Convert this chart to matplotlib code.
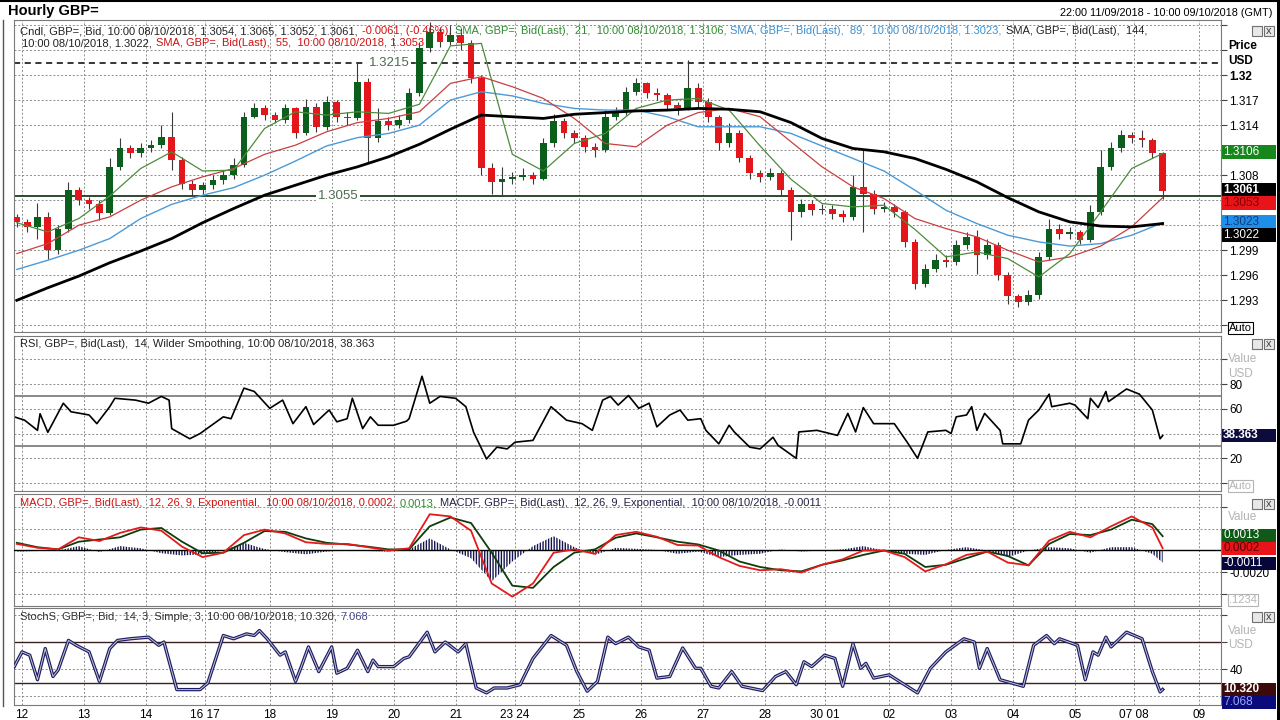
import matplotlib
matplotlib.use("Agg")
import matplotlib.pyplot as plt
from matplotlib.patches import Rectangle
import numpy as np

plt.rcParams["font.family"] = ["Liberation Sans", "DejaVu Sans"]
plt.rcParams["hatch.linewidth"] = 1.0

W, H = 1280, 720

# ---------------- data (x = trading hours since 22:00 11/09/2018) ----------------
bar_hour = list(range(0, 445, 4))
open_ = [1.3030, 1.3024, 1.3018, 1.3030, 1.2990, 1.3015, 1.3062, 1.3050, 1.3046, 1.3035,
         1.3090, 1.3112, 1.3106, 1.3112, 1.3116, 1.3126, 1.3098, 1.3070, 1.3062, 1.3068,
         1.3074, 1.3080, 1.3092, 1.3150, 1.3160, 1.3152, 1.3146, 1.3160, 1.3130, 1.3162,
         1.3138, 1.3168, 1.3150, 1.3148, 1.3192, 1.3125, 1.3145, 1.3140, 1.3146, 1.3178,
         1.3232, 1.3252, 1.3240, 1.3248, 1.3238, 1.3196, 1.3088, 1.3072, 1.3076, 1.3078,
         1.3080, 1.3076, 1.3118, 1.3145, 1.3130, 1.3124, 1.3114, 1.3110, 1.3150, 1.3156,
         1.3180, 1.3190, 1.3178, 1.3176, 1.3164, 1.3160, 1.3184, 1.3168, 1.3150, 1.3118,
         1.3130, 1.3100, 1.3082, 1.3078, 1.3082, 1.3062, 1.3036, 1.3046, 1.3038, 1.3040,
         1.3034, 1.3030, 1.3066, 1.3058, 1.3040, 1.3042, 1.3036, 1.3000, 1.2950, 1.2968,
         1.2978, 1.2976, 1.2996, 1.3006, 1.2984, 1.2996, 1.2960, 1.2935, 1.2928, 1.2936,
         1.2982, 1.3016, 1.3010, 1.3012, 1.3002, 1.3036, 1.3090, 1.3112, 1.3128, 1.3124,
         1.3122, 1.3106]
close = [1.3024, 1.3018, 1.3030, 1.2990, 1.3015, 1.3062, 1.3050, 1.3046, 1.3035, 1.3090,
         1.3112, 1.3106, 1.3112, 1.3116, 1.3126, 1.3098, 1.3070, 1.3062, 1.3068, 1.3074,
         1.3080, 1.3092, 1.3150, 1.3160, 1.3152, 1.3146, 1.3160, 1.3130, 1.3162, 1.3138,
         1.3168, 1.3150, 1.3148, 1.3192, 1.3125, 1.3145, 1.3140, 1.3146, 1.3178, 1.3232,
         1.3252, 1.3240, 1.3248, 1.3238, 1.3196, 1.3088, 1.3072, 1.3076, 1.3078, 1.3080,
         1.3076, 1.3118, 1.3145, 1.3130, 1.3124, 1.3114, 1.3110, 1.3150, 1.3156, 1.3180,
         1.3190, 1.3178, 1.3176, 1.3164, 1.3160, 1.3184, 1.3168, 1.3150, 1.3118, 1.3130,
         1.3100, 1.3082, 1.3078, 1.3082, 1.3062, 1.3036, 1.3046, 1.3038, 1.3040, 1.3034,
         1.3030, 1.3066, 1.3058, 1.3040, 1.3042, 1.3036, 1.3000, 1.2950, 1.2968, 1.2978,
         1.2976, 1.2996, 1.3006, 1.2984, 1.2996, 1.2960, 1.2935, 1.2928, 1.2936, 1.2982,
         1.3016, 1.3010, 1.3012, 1.3002, 1.3036, 1.3090, 1.3112, 1.3128, 1.3124, 1.3122,
         1.3106, 1.3061]
high = [1.3034, 1.3028, 1.3047, 1.3036, 1.3020, 1.3072, 1.3066, 1.3054, 1.3050, 1.3100,
        1.3124, 1.3116, 1.3118, 1.3122, 1.3140, 1.3156, 1.3102, 1.3074, 1.3072, 1.3080,
        1.3086, 1.3100, 1.3156, 1.3167, 1.3164, 1.3156, 1.3165, 1.3162, 1.3171, 1.3166,
        1.3175, 1.3170, 1.3156, 1.3216, 1.3196, 1.3160, 1.3150, 1.3152, 1.3184, 1.3240,
        1.3264, 1.3258, 1.3260, 1.3256, 1.3242, 1.3200, 1.3094, 1.3090, 1.3084, 1.3088,
        1.3084, 1.3124, 1.3153, 1.3148, 1.3134, 1.3128, 1.3118, 1.3158, 1.3162, 1.3186,
        1.3197, 1.3192, 1.3184, 1.3178, 1.3168, 1.3218, 1.3190, 1.3172, 1.3152, 1.3142,
        1.3134, 1.3104, 1.3086, 1.3088, 1.3086, 1.3066, 1.3052, 1.3050, 1.3046, 1.3044,
        1.3038, 1.3080, 1.3110, 1.3062, 1.3048, 1.3046, 1.3038, 1.3004, 1.2974, 1.2986,
        1.2984, 1.3002, 1.3012, 1.3014, 1.3004, 1.3000, 1.2964, 1.2938, 1.2942, 1.2988,
        1.3028, 1.3022, 1.3018, 1.3014, 1.3044, 1.3110, 1.3120, 1.3134, 1.3132, 1.3134,
        1.3124, 1.3108]
low = [1.3018, 1.3012, 1.3004, 1.2980, 1.2986, 1.3012, 1.3044, 1.3040, 1.3026, 1.3032,
       1.3086, 1.3100, 1.3102, 1.3108, 1.3112, 1.3086, 1.3064, 1.3055, 1.3058, 1.3064,
       1.3070, 1.3076, 1.3090, 1.3148, 1.3146, 1.3142, 1.3142, 1.3124, 1.3128, 1.3132,
       1.3134, 1.3144, 1.3140, 1.3146, 1.3094, 1.3120, 1.3134, 1.3136, 1.3142, 1.3175,
       1.3228, 1.3234, 1.3236, 1.3230, 1.3190, 1.3080, 1.3058, 1.3055, 1.3070, 1.3074,
       1.3070, 1.3074, 1.3114, 1.3124, 1.3118, 1.3108, 1.3102, 1.3108, 1.3146, 1.3152,
       1.3176, 1.3172, 1.3170, 1.3158, 1.3152, 1.3158, 1.3160, 1.3144, 1.3110, 1.3114,
       1.3096, 1.3076, 1.3072, 1.3074, 1.3056, 1.3002, 1.3030, 1.3032, 1.3034, 1.3028,
       1.3024, 1.3026, 1.3012, 1.3034, 1.3036, 1.3030, 1.2994, 1.2944, 1.2946, 1.2964,
       1.2970, 1.2972, 1.2992, 1.2962, 1.2980, 1.2954, 1.2926, 1.2922, 1.2924, 1.2932,
       1.2978, 1.3004, 1.3004, 1.2998, 1.3000, 1.3032, 1.3086, 1.3108, 1.3118, 1.3114,
       1.3100, 1.3052]

sma_hour = list(range(0, 445, 12))
sma21 = [1.3023, 1.3012, 1.3028, 1.3055, 1.3088, 1.3108, 1.3085, 1.3086, 1.3136, 1.3156,
         1.3152, 1.3156, 1.3154, 1.3165, 1.3235, 1.3238, 1.3105, 1.3085, 1.3118, 1.3130,
         1.3160, 1.3170, 1.3172, 1.3158, 1.3115, 1.3075, 1.3046, 1.3042, 1.3044, 1.3015,
         1.2982, 1.2988, 1.2980, 1.2958, 1.2986, 1.3036, 1.3088, 1.3106]
sma55 = [1.2986, 1.2998, 1.3020, 1.3030, 1.3050, 1.3066, 1.3078, 1.3088, 1.3105, 1.3116,
         1.3132, 1.3143, 1.3148, 1.3156, 1.3190, 1.3198, 1.3186, 1.3172, 1.3148, 1.3118,
         1.3114, 1.3140, 1.3155, 1.3160, 1.3150, 1.3120, 1.3090, 1.3066, 1.3052, 1.3028,
         1.3016, 1.3006, 1.2990, 1.2976, 1.2982, 1.2995, 1.3018, 1.3053]
sma89 = [1.2967, 1.2978, 1.2990, 1.3004, 1.3028, 1.3045, 1.3056, 1.3065, 1.3080, 1.3097,
         1.3115, 1.3125, 1.3130, 1.3140, 1.3170, 1.3180, 1.3175, 1.3166, 1.3160, 1.3158,
         1.3158, 1.3150, 1.3138, 1.3138, 1.3138, 1.3130, 1.3115, 1.3100, 1.3085, 1.3062,
         1.3038, 1.3022, 1.3008, 1.3000, 1.2995, 1.2998, 1.3008, 1.3023]
sma144 = [1.2930, 1.2945, 1.2959, 1.2975, 1.2989, 1.3004, 1.3023, 1.3040, 1.3056, 1.3068,
          1.3080, 1.3090, 1.3102, 1.3117, 1.3135, 1.3152, 1.3150, 1.3148, 1.3153, 1.3155,
          1.3157, 1.3158, 1.3160, 1.3159, 1.3156, 1.3143, 1.3124, 1.3112, 1.3108, 1.3100,
          1.3087, 1.3072, 1.3053, 1.3036, 1.3024, 1.3019, 1.3018, 1.3022]

rsi_hour = [-1, 3, 8, 9, 12, 18, 21, 28, 31, 36, 38, 46, 51, 56, 59, 60, 67, 71, 80, 83,
            88, 92, 98, 103, 107, 112, 115, 121, 124, 128, 130, 134, 137, 140, 146, 151, 152, 157, 160, 164,
            170, 174, 177, 182, 186, 190, 193, 200, 207, 213, 219, 223, 227, 230, 233, 237, 241, 245, 248, 253,
            257, 260, 265, 267, 272, 276, 278, 284, 288, 293, 295, 302, 303, 310, 318, 322, 325, 328, 332, 340,
            345, 349, 353, 360, 362, 364, 368, 370, 372, 375, 381, 382, 389, 392, 396, 400, 401, 408, 410, 415,
            416, 419, 422, 423, 430, 435, 440, 443, 444]
rsi = [53.5, 50.8, 42.6, 56, 41, 64.5, 57.6, 55, 48, 61.7, 68.5, 67, 64.5, 70, 67, 44, 35.8, 40, 53.5, 52,
       76.7, 74, 60.4, 67, 48, 61.7, 47.3, 59, 49.5, 52, 68.5, 44, 53.5, 46.7, 46.7, 50, 52, 86.3, 64.5, 70,
       68.5, 61.7, 41, 19.5, 29, 27.6, 33, 34.5, 61.7, 50.8, 48, 42.6, 67, 70, 63, 70.7, 60.4, 64.5, 45.4, 55,
       59, 50.8, 52, 42.6, 31.7, 46.7, 41.3, 29, 27.6, 37, 30.4, 20, 41.3, 42.6, 38.5, 56.3, 41.3, 61, 48, 48,
       33, 20, 41.3, 42.6, 40, 53.5, 55, 61.7, 42.6, 56.3, 42.6, 31.7, 31.7, 50.8, 59, 71.8, 61.7, 64.5, 63, 52,
       68.5, 61, 74, 65.8, 76, 71.8, 59, 35.8, 38.363]

macd_hour = list(range(0, 441, 8)) + [444]
macd_e4 = [6, 2.5, 1, 12, 8.6, 16, 21, 18, 3.5, -6, -2, 14, 19, 15.5, 7.5, 6, 6, 3, 0, 2,
           33, 31, 18, -30, -42, -30, -2, 1, -3, 14, 17, 12.5, 5, 4.5, -6, -14, -18, -17, -20, -13,
           -8, 0, 0, -6, -19, -12.5, -4, -1, -11, -13.5, 9, 17, 12, 22, 31, 21, 2]
signal_e4 = [7, 3, 1, 8, 10, 12, 19, 20.5, 8, -2.5, -2, 7, 17.7, 17, 11, 7, 5.5, 3.5, 1, 1,
             22, 30, 25, -2, -32, -34, -15, -2, 1, 11.6, 15.5, 12, 8, 5.5, 0, -10, -15, -18, -19, -13,
             -9, -4, 0, -3, -15, -13, -7, -1, -5, -13.5, 6, 15, 14, 19, 28, 24, 13]

stoch_hour = [-1, 2, 5, 8, 11, 14, 16, 20, 23, 28, 32, 36, 39, 44, 51, 55, 57, 62, 71, 74,
              80, 84, 89, 92, 94, 97, 102, 104, 108, 110, 113, 117, 122, 124, 128, 132, 136, 138, 140, 146,
              150, 152, 159, 162, 166, 171, 174, 178, 182, 185, 190, 195, 200, 207, 213, 217, 221, 225, 229, 232,
              237, 241, 245, 248, 253, 258, 263, 265, 269, 272, 277, 281, 289, 294, 298, 302, 305, 308, 313, 317,
              320, 324, 327, 329, 332, 338, 349, 354, 360, 367, 371, 373, 376, 381, 390, 394, 399, 402, 404, 411,
              414, 417, 419, 422, 424, 430, 436, 440, 443, 444]
stoch = [43.9, 65.5, 60.7, 24.6, 70.4, 29.4, 39, 82.4, 75.2, 65.5, 22.2, 70.4, 82.4, 84.8, 87.2, 75.2, 80, 10.1, 10.1, 19.8,
         89.6, 84.8, 92, 89.6, 96.9, 84.8, 60.7, 65.5, 22.2, 41.4, 72.8, 36.6, 72.8, 34.2, 41.4, 68, 36.6, 53.5, 43.9, 43.9,
         55.9, 58.3, 94.5, 65.5, 80, 65.5, 77.6, 12.5, 5.3, 12.5, 12.5, 17.3, 55.9, 89.6, 75.2, 36.6, 7.7, 22.2, 87.2, 77.6,
         87.2, 72.8, 68, 27, 29.4, 71.3, 41.4, 41.4, 15, 12.5, 36.6, 15, 8.7, 29.4, 36.6, 17.3, 51, 43.9, 60.7, 55.9,
         15, 77.6, 41.4, 48.7, 27, 31.8, 5.3, 41.4, 65.5, 84.8, 80, 41.4, 70.4, 24.6, 15, 75.2, 89.6, 77.6, 84.8, 75.2,
         24.6, 65.5, 60.7, 87.2, 72.8, 94.5, 84.8, 36.6, 6.7, 10.32]

day_pos = [2, 26, 50, 73, 98, 122, 146, 170, 193, 218, 242, 266, 290, 313, 338, 362, 386, 410, 433, 458]
day_lab = ["12", "13", "14", "16 17", "18", "19", "20", "21", "23 24", "25", "26", "27", "28",
           "30 01", "02", "03", "04", "05", "07 08", "09"]


def fx(x):
    return x / W


def fy(y):
    return 1 - y / H


def hx(x):
    # pixel column -> trading hour
    return (x - 16.84) / 2.581


fig = plt.figure(figsize=(12.8, 7.2), dpi=100)
renderer = fig.canvas.get_renderer()


def panel(y0, y1):
    return fig.add_axes([fx(14), fy(y1), fx(1221) - fx(14), (y1 - y0) / H])


ax_p = panel(20, 332)
ax_r = panel(336, 491)
ax_m = panel(494, 606)
ax_s = panel(608, 705)

for ax in (ax_p, ax_r, ax_m, ax_s):
    ax.set_xlim(-1.1, 466.6)
    ax.set_xticks(day_pos)
    ax.grid(True, color="#8c8c8c", linestyle=(0, (2, 2)), linewidth=0.7)
    ax.set_axisbelow(True)
    ax.yaxis.tick_right()
    ax.tick_params(axis="y", direction="out", length=4, width=0.8, pad=2,
                   labelsize=8.5, color="#444444")
    ax.tick_params(axis="x", length=0, labelbottom=False)
    for s in ax.spines.values():
        s.set_color("#7a7a7a")
        s.set_linewidth(0.8)

ax_s.tick_params(axis="x", labelbottom=True, labelsize=8.5, pad=3)
ax_s.set_xticklabels(day_lab)

# ---------------- price panel ----------------
o = np.array(open_)
c = np.array(close)
up = c >= o
body_h = np.maximum(np.abs(c - o), 0.00008)
ax_p.vlines(bar_hour, low, high, color="#3a3a3a", lw=0.8, zorder=2)
ax_p.bar(bar_hour, body_h, bottom=np.minimum(o, c), width=2.6,
         color=np.where(up, "#0b5e1c", "#e3161b"), edgecolor="none", zorder=3)

ax_p.plot(sma_hour, sma89, color="#4a9ad8", lw=1.0, zorder=4)
ax_p.plot(sma_hour, sma55, color="#c84040", lw=0.9, zorder=4)
ax_p.plot(sma_hour, sma21, color="#4c8c3c", lw=0.9, zorder=4)
ax_p.plot(sma_hour, sma144, color="black", lw=2.0, zorder=5)

ax_p.axhline(1.3215, color="black", ls=(0, (4, 3)), lw=1.1, zorder=1)
ax_p.axhline(1.3055, color="#2d4a2d", lw=1.4, zorder=1)
ax_p.text(hx(389), 1.3215, "1.3215", color="#4d6b4d", fontsize=9.5, ha="center", va="center",
          bbox=dict(facecolor="white", edgecolor="none", pad=1), zorder=2)
ax_p.text(hx(338), 1.3055, "1.3055", color="#4d6b4d", fontsize=9.5, ha="center", va="center",
          bbox=dict(facecolor="white", edgecolor="none", pad=1), zorder=2)

price_ticks = [1.290, 1.293, 1.296, 1.299, 1.302, 1.305, 1.308, 1.311, 1.314, 1.317, 1.320, 1.323, 1.326]
price_labels = ["", "1.293", "1.296", "1.299", "", "", "1.308", "", "1.314", "1.317", "1.32", "", ""]
ax_p.set_ylim(1.2892, 1.3266)
ax_p.set_yticks(price_ticks)
ax_p.set_yticklabels(price_labels)
ax_p.get_yticklabels()[10].set_fontweight("bold")

# ---------------- RSI ----------------
ax_r.plot(rsi_hour, rsi, color="black", lw=1.2)
ax_r.axhline(70, color="#808080", lw=1.3, zorder=1)
ax_r.axhline(30, color="#808080", lw=1.3, zorder=1)
ax_r.set_ylim(-6.4, 118.8)
ax_r.set_yticks([0, 20, 40, 60, 80, 100])
ax_r.set_yticklabels(["", "20", "", "60", "80", ""])

# ---------------- MACD ----------------
macd = np.array(macd_e4) * 1e-4
signal = np.array(signal_e4) * 1e-4
hist = macd - signal
ax_m.fill_between(macd_hour, 0, hist, facecolor="white", edgecolor="#141450",
                  hatch="||||||", linewidth=0, zorder=2)
ax_m.axhline(0, color="black", lw=1.0, zorder=3)
ax_m.plot(macd_hour, signal, color="#0d3d0d", lw=1.3, zorder=4)
ax_m.plot(macd_hour, macd, color="#e41a1a", lw=1.3, zorder=5)
ax_m.set_ylim(-0.00505, 0.00514)
ax_m.set_yticks([-0.004, -0.002, 0.002, 0.004])
ax_m.set_yticklabels(["", "-0.0020", "", ""])

# ---------------- Stochastic ----------------
ax_s.plot(stoch_hour, stoch, color="#1c1c6b", lw=2.4, zorder=3)
ax_s.plot(stoch_hour, stoch, color="#c8c8c8", lw=0.7, zorder=4)
ax_s.axhline(80, color="#3a2020", lw=1.0, zorder=1)
ax_s.axhline(20, color="#3a2020", lw=1.0, zorder=1)
ax_s.set_ylim(-12.5, 130)
ax_s.set_yticks([0, 40, 80, 120])
ax_s.set_yticklabels(["", "40", "", ""])

# ---------------- texts ----------------
fig.text(fx(8), fy(11), "Hourly GBP=", fontsize=10.5, fontweight="bold", va="center", ha="left")
fig.text(fx(1272), fy(13), "22:00 11/09/2018 - 10:00 09/10/2018 (GMT)", fontsize=7.8,
         va="center", ha="right")


def header(x, y, parts, size=8.0):
    # coloured pieces written one after the other, sharing one baseline
    for s, col in parts:
        t = fig.text(fx(x), fy(y + 3.5), s, fontsize=size, color=col, va="baseline", ha="left")
        x += t.get_window_extent(renderer).width + 4


header(20, 31, [("Cndl, GBP=, Bid, 10:00 08/10/2018, 1.3054, 1.3065, 1.3052, 1.3061,", "#222222"),
                ("-0.0061, (-0.46%),", "#d01010"),
                ("SMA, GBP=, Bid(Last),  21,  10:00 08/10/2018, 1.3106,", "#2e8b2e"),
                ("SMA, GBP=, Bid(Last),  89,  10:00 08/10/2018, 1.3023,", "#3a8fd0"),
                ("SMA, GBP=, Bid(Last),  144,", "#222222")])
header(22, 43, [("10:00 08/10/2018, 1.3022,", "#222222"),
                ("SMA, GBP=, Bid(Last),  55,  10:00 08/10/2018, 1.3053", "#d01010")])
header(20, 344, [("RSI, GBP=, Bid(Last),  14, Wilder Smoothing, 10:00 08/10/2018, 38.363", "#222222")])
header(20, 503, [("MACD, GBP=, Bid(Last),  12, 26, 9, Exponential,  10:00 08/10/2018, 0.0002,", "#d01010"),
                 ("0.0013,", "#2e8b2e"),
                 ("MACDF, GBP=, Bid(Last),  12, 26, 9, Exponential,  10:00 08/10/2018, -0.0011", "#222244")])
header(20, 616, [("StochS, GBP=, Bid,  14, 3, Simple, 3, 10:00 08/10/2018, 10.320,", "#333333"),
                 ("7.068", "#4a4a8a")])


def value_box(y, s, bg, fg="white", weight="normal"):
    fig.add_artist(Rectangle((fx(1222), fy(y + 6.5)), 54 / W, 13 / H, transform=fig.transFigure,
                             facecolor=bg, edgecolor="none", zorder=5))
    fig.text(fx(1223), fy(y), s, color=fg, fontsize=8.5, fontweight=weight,
             va="center", ha="left", zorder=6)


value_box(152, "1.3106", "#17861c")
value_box(190, "1.3061", "black", weight="bold")
value_box(203, "1.3053", "#e8141a", fg="#7a0000")
value_box(222, "1.3023", "#1e8fe8", fg="#123c7c")
value_box(235, "1.3022", "black")
value_box(435, "38.363", "#0c0c3c", weight="bold")
value_box(535, "0.0013", "#0e5a16")
value_box(548, "0.0002", "#e8141a", fg="#5a0000")
value_box(563, "-0.0011", "#06063a")
value_box(689, "10.320", "#3c0a0a", weight="bold")
value_box(702, "7.068", "#0a0a7a", fg="#9aaaff")

fig.text(fx(1228), fy(46), "Price", fontsize=8.5, fontweight="bold", va="center")
fig.text(fx(1228), fy(61), "USD", fontsize=8.5, fontweight="bold", va="center")
for y, s in [(359, "Value"), (374, "USD"), (517, "Value"), (631, "Value"), (645, "USD")]:
    fig.text(fx(1228), fy(y), s, fontsize=8.5, color="#b4b4b4", va="center")
for y, s, col in [(328, "Auto", "black"), (486, "Auto", "#b4b4b4"), (600, ".1234", "#b4b4b4")]:
    fig.text(fx(1229), fy(y), s, fontsize=8, color=col, va="center",
             bbox=dict(facecolor="white", edgecolor=col, pad=0.8, lw=0.8))

# small window icons at the top right of every panel
for y in (31, 344, 504, 617):
    for x in (1252, 1264):
        fig.add_artist(Rectangle((fx(x), fy(y + 5)), 10 / W, 10 / H, transform=fig.transFigure,
                                 facecolor="#e8e8e8", edgecolor="#707070", lw=0.8))
    fig.text(fx(1269), fy(y), "x", fontsize=8, color="#404040", ha="center", va="center")

# outer frame
fig.add_artist(plt.Line2D([fx(3), fx(3)], [fy(20), fy(706)], transform=fig.transFigure,
                          color="#555555", lw=1.0))
fig.add_artist(Rectangle((fx(1277), 0), 3 / W, 1, transform=fig.transFigure,
                         facecolor="black", edgecolor="none"))
fig.add_artist(plt.Line2D([0, 1], [fy(1), fy(1)], transform=fig.transFigure, color="black", lw=1.5))

fig.savefig("out.png", dpi=100)
